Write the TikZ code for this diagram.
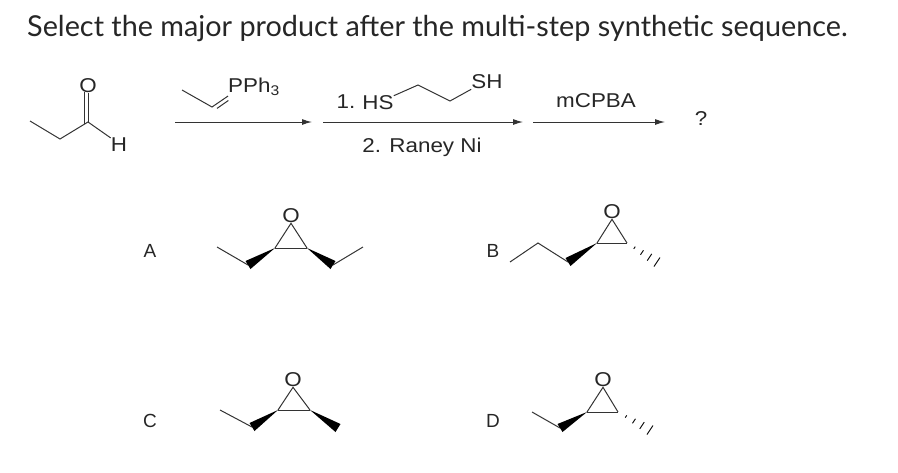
\documentclass[tikz,border=0pt]{standalone}
\usepackage{fontspec}
\usetikzlibrary{arrows.meta,calc}
\setmainfont{Liberation Sans}
\newfontfamily\titlefont{Lato}
\begin{document}
\begin{tikzpicture}[x=1pt,y=-1pt,
  bond/.style={line width=1pt,gray!40!black},
  wedgeb/.style={fill=black},
  lbl/.style={font=\fontsize{20}{24}\selectfont,inner sep=0pt,text=black!85,xscale=1.12},
  opt/.style={font=\fontsize{19}{22}\selectfont,inner sep=0pt,text=black!85},
  arr/.style={line width=1pt,gray!40!black,-{Latex[length=10pt,width=6pt]}}]
\useasboundingbox (0,0) rectangle (898,472);
\node[anchor=west,inner sep=0pt,font=\titlefont\fontsize{28.8}{32}\selectfont,text=black!85] (title) at (27,29) {Select the major product after the multi-step synthetic sequence.};
% starting material
\coordinate (s1) at (30,121); \coordinate (s2) at (60,139); \coordinate (s3) at (88,122);
\node[lbl] (sO) at (88,86) {O};
\node[lbl] (sH) at (119,145) {H};
\draw[bond] (s1)--(s2)--(s3)--(sH.north west);
\draw[bond] (s3)--(sO.south);
\draw[bond] ([xshift=-3.5pt,yshift=-2pt]s3)--([xshift=-3.5pt,yshift=1pt]sO.south);
% arrow 1 and ylide
\coordinate (a1s) at (175,122); \coordinate (a1e) at (312,122);
\draw[arr] (a1s)--(a1e);
\node[lbl,anchor=west] (pph) at (228,87) {PPh\textsubscript{3}};
\coordinate (y1) at (182,90); \coordinate (y2) at (212,107);
\draw[bond] (y1)--(y2)--(pph.south west);
\draw[bond] ([shift={(5,1.4)}]y2)--([shift={(0.4,4.4)}]pph.south west);
% arrow 2
\coordinate (a2s) at (323,122); \coordinate (a2e) at (523,122);
\draw[arr] (a2s)--(a2e);
\node[lbl] (r1) at (346,102) {1.};
\node[lbl] (hs) at (378,103) {HS};
\node[lbl] (sh) at (487,82) {SH};
\coordinate (d1) at (418,85); \coordinate (d2) at (450,101);
\draw[bond] (hs.north east)--(d1)--(d2)--(sh.south west);
\node[lbl] (rn) at (422,147) {2. Raney Ni};
% arrow 3
\coordinate (a3s) at (533,122); \coordinate (a3e) at (665,122);
\draw[arr] (a3s)--(a3e);
\node[lbl] (mc) at (596,101) {mCPBA};
\node[lbl] (q) at (701,119) {?};
% options
\node[opt] (A) at (150,251) {A};
\node[opt] (B) at (493,251) {B};
\node[opt] (C) at (150,421) {C};
\node[opt] (D) at (493,421) {D};
% A
\node[lbl] (aO) at (291,216) {O};
\coordinate (a1) at (217,247); \coordinate (a2) at (248,265); \coordinate (ac1) at (275,248);
\coordinate (ac2) at (307,248); \coordinate (a3) at (333,265); \coordinate (a4) at (363,247);
\draw[bond] (a1)--(a2); \draw[bond] (ac1)--(ac2); \draw[bond] (ac1)--(aO.south)--(ac2); \draw[bond] (a3)--(a4);
\fill[wedgeb] (ac1)--([shift={(-2.5,-4)}]a2)--([shift={(2.5,4)}]a2)--cycle;
\fill[wedgeb] (ac2)--([shift={(2.5,-4)}]a3)--([shift={(-2.5,4)}]a3)--cycle;
% B
\node[lbl] (bO) at (612,212) {O};
\coordinate (b1) at (510,262); \coordinate (b2) at (538,243); \coordinate (b3) at (568,262);
\coordinate (bc1) at (597,243); \coordinate (bc2) at (627,243); \coordinate (b4) at (657,262);
\draw[bond] (b1)--(b2)--(b3); \draw[bond] (bc1)--(bc2); \draw[bond] (bc1)--(bO.south)--(bc2);
\fill[wedgeb] (bc1)--([shift={(-2.5,-4)}]b3)--([shift={(2.5,4)}]b3)--cycle;
\foreach \t in {0.25,0.5,0.75,1.0}
  \draw[line width=0.9pt] ($(bc2)!\t!(b4)+(\t*3,-\t*4.5)$)--($(bc2)!\t!(b4)-(\t*3,-\t*4.5)$);
% C
\node[lbl] (cO) at (293,380) {O};
\coordinate (c1) at (220,410); \coordinate (c2) at (252,427); \coordinate (cc1) at (278,410);
\coordinate (cc2) at (310,410); \coordinate (c3) at (338,428);
\draw[bond] (c1)--(c2); \draw[bond] (cc1)--(cc2); \draw[bond] (cc1)--(cO.south)--(cc2);
\fill[wedgeb] (cc1)--([shift={(-2.5,-4)}]c2)--([shift={(2.5,4)}]c2)--cycle;
\fill[wedgeb] (cc2)--([shift={(2.5,-4)}]c3)--([shift={(-2.5,4)}]c3)--cycle;
% D
\node[lbl] (dO) at (603,380) {O};
\coordinate (e1) at (532,412); \coordinate (e2) at (560,428); \coordinate (dc1) at (587,412);
\coordinate (dc2) at (618,412); \coordinate (e3) at (650,430);
\draw[bond] (e1)--(e2); \draw[bond] (dc1)--(dc2); \draw[bond] (dc1)--(dO.south)--(dc2);
\fill[wedgeb] (dc1)--([shift={(-2.5,-4)}]e2)--([shift={(2.5,4)}]e2)--cycle;
\foreach \t in {0.25,0.5,0.75,1.0}
  \draw[line width=0.9pt] ($(dc2)!\t!(e3)+(\t*3,-\t*4.5)$)--($(dc2)!\t!(e3)-(\t*3,-\t*4.5)$);
\end{tikzpicture}
\end{document}
